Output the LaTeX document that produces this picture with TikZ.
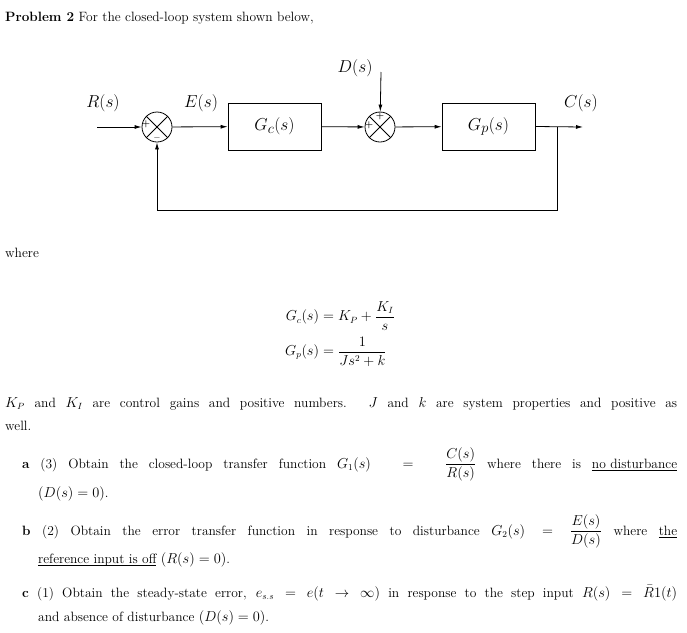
\documentclass[tikz,border=0pt]{standalone}
\usepackage{amsmath}
\usetikzlibrary{arrows.meta}
\newcommand{\ul}[1]{$\underline{\smash{\text{#1}}}$}
\begin{document}
\begin{tikzpicture}[x=1pt,y=-1pt,
  txt/.style={anchor=base west,inner sep=0pt,font=\fontsize{13.5}{16}\selectfont},
  blk/.style={draw,thick,minimum width=93pt,minimum height=47pt,font=\fontsize{19}{22}\selectfont},
  sumc/.style={draw,thick,circle,minimum size=30pt,inner sep=0pt},
  lab/.style={font=\fontsize{19}{22}\selectfont,inner sep=0pt},
  sg/.style={font=\fontsize{9}{9}\selectfont\bfseries,inner sep=0pt},
  arr/.style={thick,-{Latex[length=7pt,width=4pt]}}]
\useasboundingbox (0,0) rectangle (687,632);
\node[txt] (t0) at (5,21) {\textbf{Problem 2} For the closed-loop system shown below,};
% diagram
\coordinate (in) at (97,127);
\node[sumc] (s1) at (157,127) {};
\draw[thick] (s1.north west)--(s1.south east) (s1.north east)--(s1.south west);
\node[sg] (p1) at (146,124) {+};
\node[sg] (m1) at (157,139) {--};
\node[blk] (gc) at (274.5,126.5) {$G_c(s)$};
\node[sumc] (s2) at (380,127) {};
\draw[thick] (s2.north west)--(s2.south east) (s2.north east)--(s2.south west);
\node[sg] (p2) at (369,125) {+};
\node[sg] (p3) at (380,116) {+};
\node[blk] (gp) at (488.5,126.5) {$G_p(s)$};
\coordinate (br) at (557,127);
\coordinate (out) at (583,127);
\coordinate (dtop) at (381,72);
\coordinate (fb1) at (557,210);
\coordinate (fb2) at (157,210);
\draw[arr] (in)--(s1);
\draw[arr] (s1)--(gc);
\draw[arr] (gc)--(s2);
\draw[arr] (s2)--(gp);
\draw[arr] (gp.east)--(out);
\draw[arr] (br)--(fb1)--(fb2)--(s1);
\draw[arr] (dtop)--(s2);
\node[lab] (R) at (103,103) {$R(s)$};
\node[lab] (E) at (201,103) {$E(s)$};
\node[lab] (D) at (355,68) {$D(s)$};
\node[lab] (C) at (581,103) {$C(s)$};
% text
\node[txt] (w) at (5,257) {where};
\node[inner sep=0pt,font=\fontsize{13.5}{16}\selectfont] (eq) at (340,334) {$\begin{aligned}G_c(s)&=K_P+\frac{K_I}{s}\\[2pt]G_p(s)&=\frac{1}{Js^2+k}\end{aligned}$};
\node[txt] (l1) at (5,407) {\hbox to 672pt{$K_P$ and $K_I$ are control gains and positive numbers. $J$ and $k$ are system properties and positive as}};
\node[txt] (l2) at (5,430) {well.};
\node[txt] (a) at (22,468) {\hbox to 655pt{\textbf{a} (3) Obtain the closed-loop transfer function $G_1(s)\;=\;\dfrac{C(s)}{R(s)}$ where there is \ul{no disturbance}}};
\node[txt] (a2) at (38,497) {$(D(s)=0)$.};
\node[txt] (b) at (22,535) {\hbox to 655pt{\textbf{b} (2) Obtain the error transfer function in response to disturbance $G_2(s)=\dfrac{E(s)}{D(s)}$ where \ul{the}}};
\node[txt] (b2) at (38,563) {\ul{reference input is off} $(R(s)=0)$.};
\node[txt] (c) at (22,597) {\hbox to 655pt{\textbf{c} (1) Obtain the steady-state error, $e_{s.s}=e(t\to\infty)$ in response to the step input $R(s)=\bar{R}1(t)$}};
\node[txt] (c2) at (38,621) {and absence of disturbance $(D(s)=0)$.};
\end{tikzpicture}
\end{document}
